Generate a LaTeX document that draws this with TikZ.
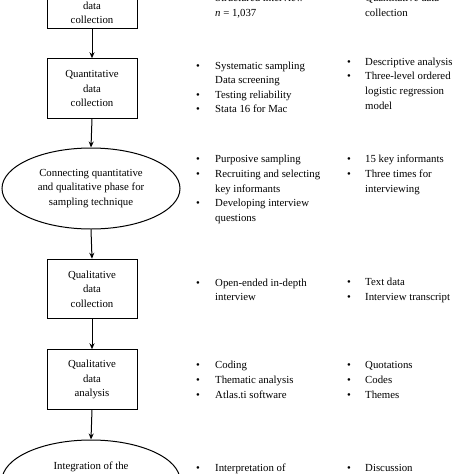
\documentclass[tikz,border=0pt]{standalone}
\usepackage{fontspec}
\setmainfont{Liberation Serif}
\usetikzlibrary{shapes.geometric,arrows.meta}
\begin{document}
\begin{tikzpicture}[x=1pt,y=-1pt,
  font=\fontsize{10.8}{14.5}\selectfont,
  box/.style={draw, line width=1pt, minimum width=90pt, minimum height=59.5pt, align=center, inner sep=0pt},
  oval/.style={draw, ellipse, line width=1pt, minimum width=178pt, minimum height=81pt, align=center, inner sep=0pt},
  arr/.style={line width=1pt, -{Stealth[length=6pt,width=5pt]}},
  txt/.style={anchor=base west, inner sep=0pt},
  bul/.style={anchor=base, inner sep=0pt}]
\useasboundingbox (0,0) rectangle (474,474);

% flow boxes
\node[box] (b1) at (92,-1.25) {};
\node[align=center, inner sep=0pt] (b1t) at (92,13) {data\\collection};
\node[box] (b2) at (92,88.5) {Quantitative\\data\\collection};
\node[oval] (e1) at (91,188.5) {Connecting quantitative\\and qualitative phase for\\sampling technique};
\node[box] (b3) at (92,289) {Qualitative\\data\\collection};
\node[box] (b4) at (92,379.5) {Qualitative\\data\\analysis};
\node[oval] (e2) at (91,480.5) {};
\node[inner sep=0pt, anchor=base] (e2t) at (91,469.5) {Integration of the};

\draw[arr] (b1.south) -- (b2.north);
\draw[arr] (b2.south) -- (e1.north);
\draw[arr] (e1.south) -- (b3.north);
\draw[arr] (b3.south) -- (b4.north);
\draw[arr] (b4.south) -- (e2.north);

% middle column
\node[bul] (m1b) at (198,1.7) {•};
\node[txt] (m1a) at (215,1.7) {Structured interview};
\node[txt] (m1c) at (215,16.2) {\textit{n} = 1,037};

\node[bul] (m2b1) at (198,69.2) {•};
\node[txt] (m2a) at (215,69.2) {Systematic sampling};
\node[txt] (m2c) at (215,83.7) {Data screening};
\node[bul] (m2b2) at (198,98.2) {•};
\node[txt] (m2d) at (215,98.2) {Testing reliability};
\node[bul] (m2b3) at (198,112.7) {•};
\node[txt] (m2e) at (215,112.7) {Stata 16 for Mac};

\node[bul] (m3b1) at (198,162.8) {•};
\node[txt] (m3a) at (215,162.8) {Purposive sampling};
\node[bul] (m3b2) at (198,177.5) {•};
\node[txt] (m3c) at (215,177.5) {Recruiting and selecting};
\node[txt] (m3d) at (215,192.2) {key informants};
\node[bul] (m3b3) at (198,206.7) {•};
\node[txt] (m3e) at (215,206.7) {Developing interview};
\node[txt] (m3f) at (215,221.4) {questions};

\node[bul] (m4b1) at (198,286.2) {•};
\node[txt] (m4a) at (215,286.2) {Open-ended in-depth};
\node[txt] (m4c) at (215,300.2) {interview};

\node[bul] (m5b1) at (198,368.5) {•};
\node[txt] (m5a) at (215,368.5) {Coding};
\node[bul] (m5b2) at (198,383.5) {•};
\node[txt] (m5c) at (215,383.5) {Thematic analysis};
\node[bul] (m5b3) at (198,398.5) {•};
\node[txt] (m5d) at (215,398.5) {Atlas.ti software};

\node[bul] (m6b1) at (198,471.5) {•};
\node[txt] (m6a) at (215,471.5) {Interpretation of};

% right column
\node[bul] (r1b) at (349,1.7) {•};
\node[txt] (r1a) at (365,1.7) {Quantitative data};
\node[txt] (r1c) at (365,16.2) {collection};

\node[bul] (r2b1) at (349,65.2) {•};
\node[txt] (r2a) at (365,65.2) {Descriptive analysis};
\node[bul] (r2b2) at (349,79.9) {•};
\node[txt] (r2c) at (365,79.9) {Three-level ordered};
\node[txt] (r2d) at (365,94.5) {logistic regression};
\node[txt] (r2e) at (365,109.2) {model};

\node[bul] (r3b1) at (349,162.5) {•};
\node[txt] (r3a) at (365,162.5) {15 key informants};
\node[bul] (r3b2) at (349,177.5) {•};
\node[txt] (r3c) at (365,177.5) {Three times for};
\node[txt] (r3d) at (365,192.2) {interviewing};

\node[bul] (r4b1) at (349,285.2) {•};
\node[txt] (r4a) at (365,285.2) {Text data};
\node[bul] (r4b2) at (349,300.2) {•};
\node[txt] (r4c) at (365,300.2) {Interview transcript};

\node[bul] (r5b1) at (349,368.5) {•};
\node[txt] (r5a) at (365,368.5) {Quotations};
\node[bul] (r5b2) at (349,383.5) {•};
\node[txt] (r5c) at (365,383.5) {Codes};
\node[bul] (r5b3) at (349,398.5) {•};
\node[txt] (r5d) at (365,398.5) {Themes};

\node[bul] (r6b1) at (349,471.5) {•};
\node[txt] (r6a) at (365,471.5) {Discussion};
\end{tikzpicture}
\end{document}
